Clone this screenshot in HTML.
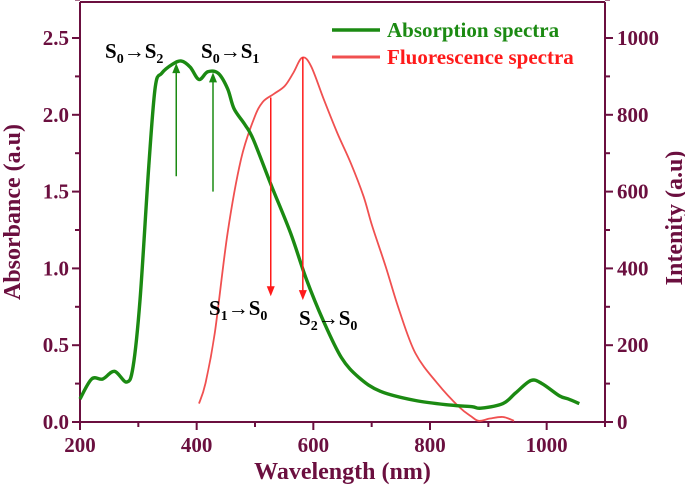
<!DOCTYPE html>
<html><head><meta charset="utf-8"><style>
body{margin:0;background:#fff}
svg{display:block;font-family:"Liberation Serif",serif;font-weight:bold}
</style></head><body>
<svg id="c" width="685" height="485" viewBox="0 0 685 485"></svg>
<script>
const absNm=[200,220,239,259,280,291,303,318,329,340,359,374,389,404,419,437,453,464,482,497,528,561,588,617,648,678,715,775,835,872,887,925,947,973,992,1022,1037,1056];
const absVal=[0.15,0.28,0.28,0.33,0.26,0.36,0.80,1.67,2.18,2.27,2.33,2.35,2.31,2.23,2.28,2.27,2.17,2.04,1.94,1.84,1.54,1.23,0.93,0.66,0.42,0.29,0.20,0.14,0.11,0.10,0.09,0.12,0.19,0.27,0.25,0.17,0.15,0.12];
const flNm=[404,415,431,453,476,498,513,532,551,566,581,596,618,641,664,686,701,724,747,775,813,850,872,884,903,925,944];
const flVal=[48,100,231,492,684,789,833,854,875,910,949,927,840,753,675,588,510,405,292,179,100,39,13,3,9,13,3];
const xTicks=[200,400,600,800,1000];
const yLTicks=[0,0.5,1.0,1.5,2.0,2.5];
const yLLabels=["0.0","0.5","1.0","1.5","2.0","2.5"];
const yRTicks=[0,200,400,600,800,1000];
const greenArrows=[[365,1.6,2.33],[428,1.5,2.27]];
const redArrows=[[527,845,330],[582,950,320]];
const NS="http://www.w3.org/2000/svg";
const svg=document.getElementById('c');
const L=80,R=605,T=2,B=422,AX="#6b0f3f";
const X=v=>L+(v-200)/900*(R-L);
const YL=v=>B-v/2.5*384;
const YR=v=>B-v/1000*384;
function el(t,a,p){const e=document.createElementNS(NS,t);for(const k in a)e.setAttribute(k,a[k]);(p||svg).appendChild(e);return e;}
const ax=el('g',{});


el('line',{x1:L,y1:T,x2:L,y2:B,stroke:AX,'stroke-width':2},ax);
el('line',{x1:R,y1:T,x2:R,y2:B,stroke:AX,'stroke-width':2},ax);
el('line',{x1:L,y1:B,x2:R,y2:B,stroke:AX,'stroke-width':2},ax);
el('line',{x1:L,y1:T,x2:R,y2:T,stroke:AX,'stroke-width':2},ax);
for(let v=200;v<=1100;v+=100){const x=X(v);el('line',{x1:x,y1:B,x2:x,y2:B+(v%200?5:8),stroke:AX,'stroke-width':2},ax);}
xTicks.forEach(v=>{const t=el('text',{x:X(v),y:B+30,'text-anchor':'middle','font-size':21,fill:AX},ax);t.textContent=v;});
for(let v=0;v<=2.75;v+=0.25){const y=YL(v);el('line',{x1:L,y1:y,x2:L-((Math.round(v*4))%2?5:8),y2:y,stroke:AX,'stroke-width':2},ax);}
yLTicks.forEach((v,i)=>{const t=el('text',{x:L-11,y:YL(v)+7,'text-anchor':'end','font-size':21,fill:AX},ax);t.textContent=yLLabels[i];});
for(let v=0;v<=1100;v+=100){const y=YR(v);el('line',{x1:R,y1:y,x2:R+(v%200?5:8),y2:y,stroke:AX,'stroke-width':2},ax);}
yRTicks.forEach(v=>{const t=el('text',{x:R+12,y:YR(v)+7,'text-anchor':'start','font-size':21,fill:AX},ax);t.textContent=v;});
let t=el('text',{x:(L+R)/2,y:479,'text-anchor':'middle','font-size':24,fill:AX});t.textContent='Wavelength (nm)';

t=el('text',{x:0,y:0,transform:'translate(20,212) rotate(-90)','text-anchor':'middle','font-size':24,fill:AX});t.textContent='Absorbance (a.u)';

t=el('text',{x:0,y:0,transform:'translate(682,218) rotate(-90)','text-anchor':'middle','font-size':24,fill:AX});t.textContent='Intenity (a.u)';

function smooth(pts){let d='M'+pts[0][0]+','+pts[0][1];for(let i=0;i<pts.length-1;i++){const p0=pts[i-1]||pts[i],p1=pts[i],p2=pts[i+1],p3=pts[i+2]||p2;d+=` C${p1[0]+(p2[0]-p0[0])/6},${p1[1]+(p2[1]-p0[1])/6} ${p2[0]-(p3[0]-p1[0])/6},${p2[1]-(p3[1]-p1[1])/6} ${p2[0]},${p2[1]}`;}return d;}
const fl=el('path',{d:smooth(flNm.map((n,i)=>[X(n),YR(flVal[i])])),fill:'none',stroke:'#f05050','stroke-width':1.8});

const ab=el('path',{d:smooth(absNm.map((n,i)=>[X(n),YL(absVal[i])])),fill:'none',stroke:'#1b8a12','stroke-width':3.4});

greenArrows.forEach(a=>{const x=X(a[0]),y1=YL(a[1]),y2=YL(a[2]);
 const g=el('g',{});
 el('line',{x1:x,y1:y1,x2:x,y2:y2+8,stroke:'#1b8a12','stroke-width':1.5},g);
 el('polygon',{points:`${x-4},${y2+9} ${x+4},${y2+9} ${x},${y2-1}`,fill:'#1b8a12'},g);});
redArrows.forEach(a=>{const x=X(a[0]),y1=YR(a[1]),y2=YR(a[2]);
 const g=el('g',{});
 el('line',{x1:x,y1:y1,x2:x,y2:y2-8,stroke:'#ff1a1a','stroke-width':1.5},g);
 el('polygon',{points:`${x-4},${y2-9} ${x+4},${y2-9} ${x},${y2+1}`,fill:'#ff1a1a'},g);});
function lab(x,y,a,b,name){const tx=el('text',{x:x,y:y,'font-size':21,fill:'#000'});
 tx.innerHTML=`S<tspan font-size="14" dy="5">${a}</tspan><tspan dy="-5">→S</tspan><tspan font-size="14" dy="5">${b}</tspan>`;
 }
lab(105,58,'0','2','label-s0-s2');lab(201,58,'0','1','label-s0-s1');
lab(209,315,'1','0','label-s1-s0');lab(299,325,'2','0','label-s2-s0');
const lg=el('g',{});
el('line',{x1:332,y1:30,x2:380,y2:30,stroke:'#1b8a12','stroke-width':3.5},lg);
t=el('text',{x:387,y:37,'font-size':21,fill:'#1b8a12'},lg);t.textContent='Absorption spectra';

el('line',{x1:332,y1:57,x2:380,y2:57,stroke:'#f05050','stroke-width':3},lg);
t=el('text',{x:387,y:64,'font-size':21,fill:'#ff1a1a'},lg);t.textContent='Fluorescence spectra';

</script>
</body></html>
